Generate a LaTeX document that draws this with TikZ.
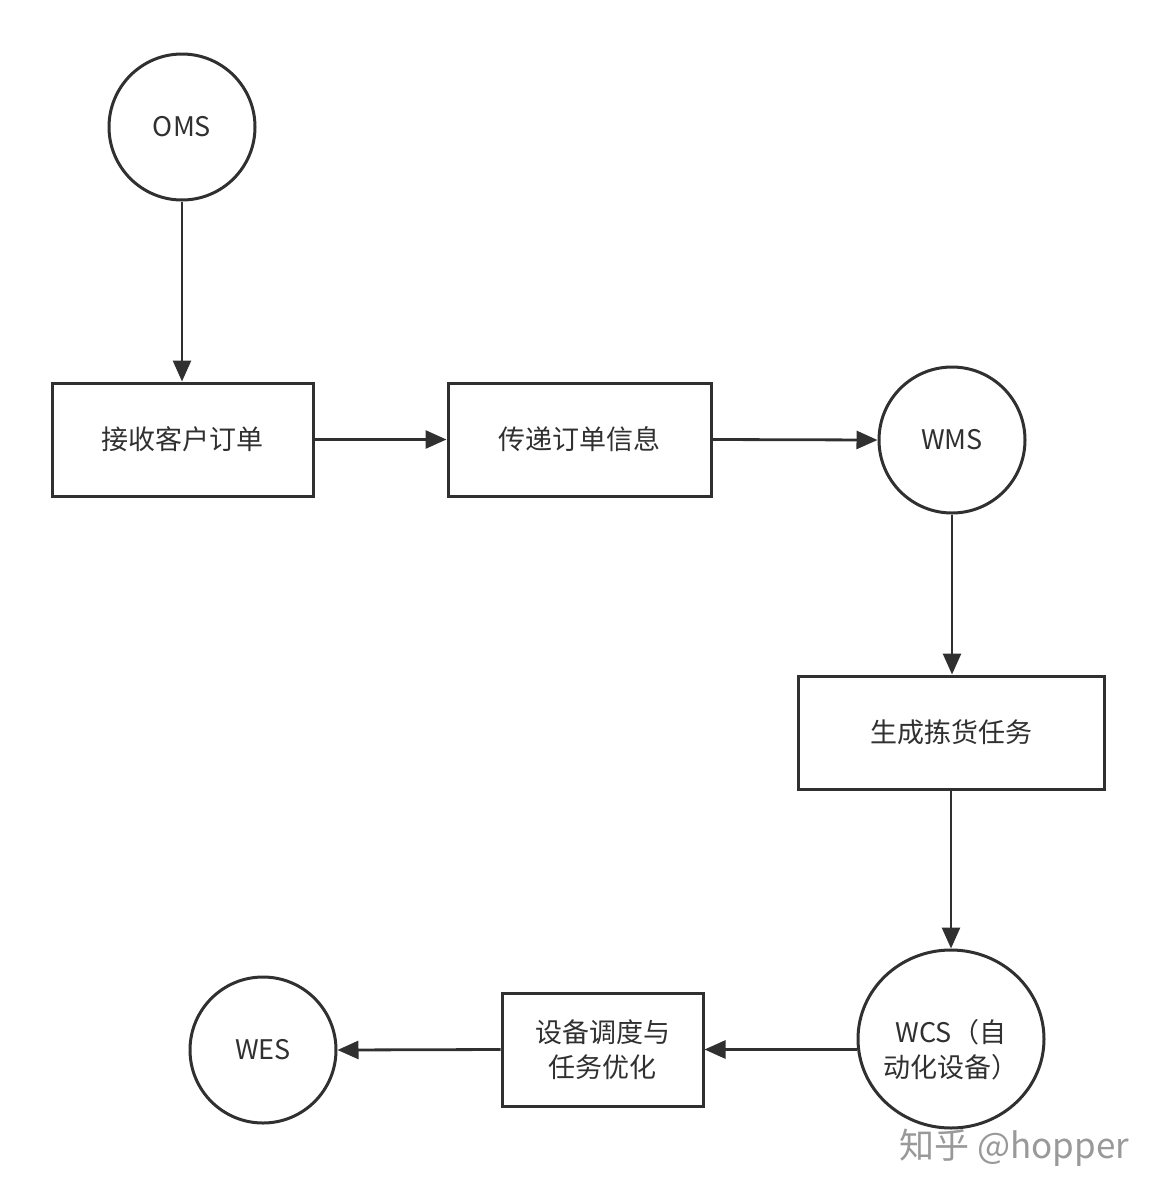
\documentclass[tikz,border=0pt]{standalone}
\usepackage{fontspec}
\setmainfont{Noto Sans CJK SC}
\usetikzlibrary{arrows.meta,shapes.geometric}
\definecolor{ink}{HTML}{303030}
\begin{document}
\begin{tikzpicture}[x=1pt,y=-1pt,
  every node/.style={text=ink,font=\fontsize{27}{35}\selectfont},
  circ/.style={draw=ink,line width=3pt,circle,minimum size=146pt,inner sep=0pt},
  boxn/.style={draw=ink,line width=3pt,rectangle,minimum height=113pt,inner sep=0pt,align=center},
  arr/.style={draw=ink,line width=2.8pt,-{Triangle[length=21pt,width=18pt]}}]
\useasboundingbox (0,0) rectangle (1156,1200);
\node[circ] (oms) at (182,127) {OMS};
\node[boxn,minimum width=261pt] (b1) at (182.5,439.5) {接收客户订单};
\node[boxn,minimum width=263pt] (b2) at (579.5,439.5) {传递订单信息};
\node[circ] (wms) at (952,440) {WMS};
\node[boxn,minimum width=306pt] (b3) at (951,732.5) {生成拣货任务};
\node[draw=ink,line width=3pt,ellipse,minimum width=186pt,minimum height=178pt,inner sep=0pt] (wcs) at (951,1039) {};
\node[align=center] (wcst) at (951,1050) {WCS（自\\动化设备）};
\node[boxn,minimum width=201pt] (b4) at (602.5,1049.5) {设备调度与\\任务优化};
\node[circ] (wes) at (263,1050) {WES};
\draw[arr] (oms.south) -- (oms.south |- b1.north);
\draw[arr] (b1.east) -- (b2.west);
\draw[arr] (b2.east) -- (wms.west);
\draw[arr] (wms.south) -- (wms.south |- b3.north);
\draw[arr] (b3.south) -- (b3.south |- wcs.north);
\coordinate (wcsin) at (b4.east -| wcs.west);
\draw[arr] (wcsin) -- (b4.east);
\draw[arr] (b4.west) -- (wes.east);
\node[text=black!40,font=\fontsize{35}{35}\selectfont,anchor=west] (wm) at (896,1148) {知乎 @hopper};
\end{tikzpicture}
\end{document}
